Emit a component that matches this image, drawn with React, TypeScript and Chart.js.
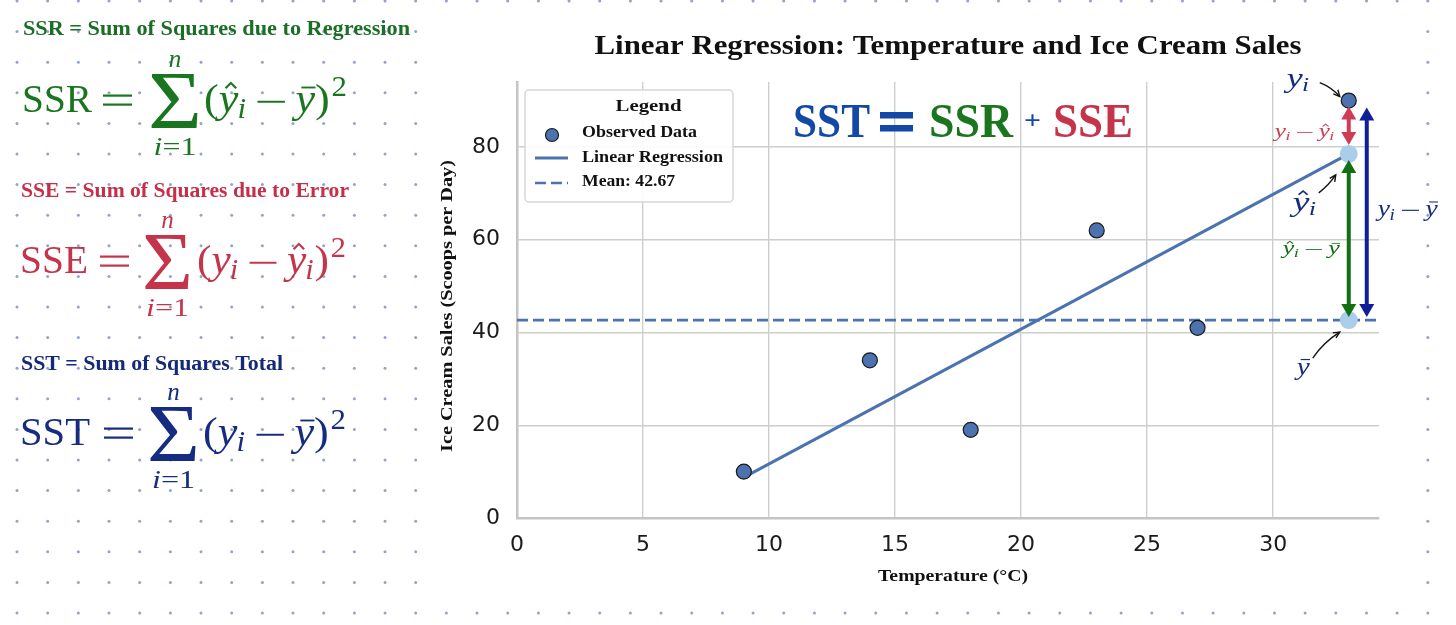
import React, { useEffect, useRef } from 'react';
import { Chart, registerables } from 'chart.js';

Chart.register(...registerables);

// ---------- data ----------
const temperatures = [9, 14, 18, 23, 27, 33];
const iceCreamSales = [10, 34, 19, 62, 41, 90];
const regressionTemps = [9, 33];
const regressionSales = [8.75, 78.5];
const meanSales = 42.67;
const meanSpan = [0, 34.2];
const highlightTemp = 33;
const highlightObserved = 90;
const highlightPredicted = 78.5;
const xTickValues = [0, 5, 10, 15, 20, 25, 30];
const yTickValues = [0, 20, 40, 60, 80];
const xRange = [0, 34.2];
const yRange = [0, 94];
const legendLabels = ['Observed Data', 'Linear Regression', 'Mean: 42.67'];
const chartTitle = 'Linear Regression: Temperature and Ice Cream Sales';
const xTitle = 'Temperature (°C)';
const yTitle = 'Ice Cream Sales (Scoops per Day)';

// ---------- styles ----------
const W = 1456;
const H = 625;
const SERIF = '"Liberation Serif", "DejaVu Serif", serif';
const PT_BLUE = '#4C72B0';
const HL_BLUE = 'rgb(170,205,234)';
const GREEN = 'rgb(26,118,30)';
const RED = 'rgb(198,52,76)';
const NAVY = 'rgb(22,44,128)';
const HEAD_GREEN = 'rgb(28,110,38)';
const HEAD_RED = 'rgb(196,48,72)';
const HEAD_NAVY = 'rgb(20,42,118)';
const BIG_BLUE = 'rgb(18,72,168)';
const ARROW_RED = 'rgb(205,62,86)';
const ARROW_GREEN = 'rgb(18,112,18)';
const ARROW_BLUE = 'rgb(16,30,152)';

type TxtOpt = { size: number; weight?: string; style?: string; color: string; w?: number; align?: 'left' | 'center' | 'right'; family?: string };

function txt(ctx: CanvasRenderingContext2D, s: string, x: number, y: number, o: TxtOpt) {
  ctx.save();
  ctx.font = `${o.style || 'normal'} ${o.weight || 'normal'} ${o.size}px ${o.family || SERIF}`;
  ctx.fillStyle = o.color;
  ctx.textBaseline = 'alphabetic';
  ctx.textAlign = 'left';
  const m = ctx.measureText(s).width;
  const sx = o.w ? o.w / m : 1;
  const w = m * sx;
  let left = x;
  if (o.align === 'center') left = x - w / 2;
  else if (o.align === 'right') left = x - w;
  ctx.translate(left, y);
  ctx.scale(sx, 1);
  ctx.fillText(s, 0, 0);
  ctx.restore();
  return w;
}

type Tok = { k: 'v' | 't' | 'op' | 'sup'; t: string; acc?: 'hat' | 'bar'; sub?: string };

function layoutMath(ctx: CanvasRenderingContext2D, toks: Tok[], size: number, draw: boolean) {
  let x = 0;
  const it = (s: number) => `italic ${s}px ${SERIF}`;
  const up = (s: number) => `normal ${s}px ${SERIF}`;
  for (const tk of toks) {
    if (tk.k === 'v') {
      ctx.font = it(size);
      const w = ctx.measureText(tk.t).width;
      if (draw) {
        ctx.fillText(tk.t, x, 0);
        if (tk.acc === 'hat') {
          const cx = x + w * 0.62;
          ctx.lineWidth = size * 0.05;
          ctx.beginPath();
          ctx.moveTo(cx - size * 0.12, -size * 0.58);
          ctx.lineTo(cx, -size * 0.71);
          ctx.lineTo(cx + size * 0.12, -size * 0.58);
          ctx.stroke();
        } else if (tk.acc === 'bar') {
          ctx.fillRect(x + w * 0.3, -size * 0.62, w * 0.72, size * 0.045);
        }
      }
      x += w;
      if (tk.sub) {
        ctx.font = it(size * 0.7);
        const sw = ctx.measureText(tk.sub).width;
        if (draw) ctx.fillText(tk.sub, x - size * 0.02, size * 0.15);
        x += sw;
      }
    } else if (tk.k === 'op') {
      x += size * 0.24;
      const mw = size * 0.62;
      if (draw) ctx.fillRect(x, -size * 0.25 - size * 0.024, mw, size * 0.048);
      x += mw + size * 0.24;
    } else if (tk.k === 't') {
      ctx.font = up(size);
      const w = ctx.measureText(tk.t).width;
      if (draw) ctx.fillText(tk.t, x, 0);
      x += w;
    } else {
      ctx.font = up(size * 0.7);
      const w = ctx.measureText(tk.t).width;
      if (draw) ctx.fillText(tk.t, x + size * 0.04, -size * 0.38);
      x += w + size * 0.04;
    }
  }
  return x;
}

function drawMath(ctx: CanvasRenderingContext2D, toks: Tok[], x: number, y: number, size: number, color: string, targetW?: number, align: 'left' | 'center' = 'left') {
  ctx.save();
  const natural = layoutMath(ctx, toks, size, false);
  const sx = targetW ? targetW / natural : 1;
  const w = natural * sx;
  const left = align === 'center' ? x - w / 2 : x;
  ctx.translate(left, y);
  ctx.scale(sx, 1);
  ctx.fillStyle = color;
  ctx.strokeStyle = color;
  ctx.textBaseline = 'alphabetic';
  ctx.textAlign = 'left';
  layoutMath(ctx, toks, size, true);
  ctx.restore();
}

const V = (t: string, acc?: 'hat' | 'bar', sub?: string): Tok => ({ k: 'v', t, acc, sub });
const T = (t: string): Tok => ({ k: 't', t });
const OP: Tok = { k: 'op', t: '−' };
const SUP = (t: string): Tok => ({ k: 'sup', t });

const bodySSR: Tok[] = [T('('), V('y', 'hat', 'i'), OP, V('y', 'bar'), T(')'), SUP('2')];
const bodySSE: Tok[] = [T('('), V('y', undefined, 'i'), OP, V('y', 'hat', 'i'), T(')'), SUP('2')];
const bodySST: Tok[] = [T('('), V('y', undefined, 'i'), OP, V('y', 'bar'), T(')'), SUP('2')];

type Formula = { label: string; color: string; base: number; labelX: number; labelW: number; eqX: number; sigmaX: number; sigmaW: number; bodyX: number; bodyW: number; body: Tok[] };

const formulas: Formula[] = [
  { label: 'SSR', color: GREEN, base: 112, labelX: 22, labelW: 70, eqX: 103, sigmaX: 148, sigmaW: 54, bodyX: 204, bodyW: 143, body: bodySSR },
  { label: 'SSE', color: RED, base: 273, labelX: 20, labelW: 68, eqX: 100, sigmaX: 142, sigmaW: 51, bodyX: 197, bodyW: 149, body: bodySSE },
  { label: 'SST', color: NAVY, base: 445, labelX: 20, labelW: 70, eqX: 104, sigmaX: 147, sigmaW: 53, bodyX: 203, bodyW: 143, body: bodySST },
];

function drawFormula(ctx: CanvasRenderingContext2D, f: Formula) {
  txt(ctx, f.label, f.labelX, f.base, { size: 41, color: f.color, w: f.labelW });
  ctx.fillStyle = f.color;
  const cy = f.base - 12;
  ctx.fillRect(f.eqX, cy - 5.5, 29, 2.2);
  ctx.fillRect(f.eqX, cy + 3.5, 29, 2.2);
  txt(ctx, 'Σ', f.sigmaX, f.base + 16, { size: 82, color: f.color, w: f.sigmaW });
  const scx = f.sigmaX + f.sigmaW / 2;
  drawMath(ctx, [V('n')], scx, f.base - 45, 25, f.color, undefined, 'center');
  drawMath(ctx, [V('i'), T('=1')], scx, f.base + 43, 25, f.color, 43, 'center');
  drawMath(ctx, f.body, f.bodyX, f.base, 41, f.color, f.bodyW);
}

function drawBackground(ctx: CanvasRenderingContext2D) {
  ctx.save();
  ctx.fillStyle = '#ffffff';
  ctx.fillRect(0, 0, W, H);
  ctx.fillStyle = 'rgb(146,164,202)';
  for (let r = 0; r <= 20; r++) {
    for (let c = 0; c <= 46; c++) {
      const x = 17 + c * 30.67;
      const y = 1 + r * 30.6;
      if (x > 425 && x < 1420 && y > 8 && y < 600) continue;
      ctx.beginPath();
      ctx.arc(x, y, 1.5, 0, Math.PI * 2);
      ctx.fill();
    }
  }
  txt(ctx, 'SSR = Sum of Squares due to Regression', 23, 35, { size: 20, weight: 'bold', color: HEAD_GREEN, w: 387 });
  txt(ctx, 'SSE = Sum of Squares due to Error', 21, 197, { size: 20, weight: 'bold', color: HEAD_RED, w: 328 });
  txt(ctx, 'SST = Sum of Squares Total', 21, 370, { size: 20, weight: 'bold', color: HEAD_NAVY, w: 262 });
  formulas.forEach((f) => drawFormula(ctx, f));
  ctx.restore();
}

function dblArrow(ctx: CanvasRenderingContext2D, x: number, y1: number, y2: number, color: string) {
  const hw = 7.5;
  const hl = 13;
  ctx.save();
  ctx.strokeStyle = color;
  ctx.fillStyle = color;
  ctx.lineWidth = 4;
  ctx.beginPath();
  ctx.moveTo(x, y1 + hl - 1);
  ctx.lineTo(x, y2 - hl + 1);
  ctx.stroke();
  ctx.beginPath();
  ctx.moveTo(x, y1);
  ctx.lineTo(x - hw, y1 + hl);
  ctx.lineTo(x + hw, y1 + hl);
  ctx.closePath();
  ctx.fill();
  ctx.beginPath();
  ctx.moveTo(x, y2);
  ctx.lineTo(x - hw, y2 - hl);
  ctx.lineTo(x + hw, y2 - hl);
  ctx.closePath();
  ctx.fill();
  ctx.restore();
}

function pointer(ctx: CanvasRenderingContext2D, x1: number, y1: number, x2: number, y2: number, bend: number) {
  ctx.save();
  ctx.strokeStyle = '#111';
  ctx.lineWidth = 1.4;
  const mx = (x1 + x2) / 2;
  const my = (y1 + y2) / 2;
  const dx = x2 - x1;
  const dy = y2 - y1;
  const len = Math.hypot(dx, dy);
  const cx = mx - (dy / len) * bend;
  const cy = my + (dx / len) * bend;
  ctx.beginPath();
  ctx.moveTo(x1, y1);
  ctx.quadraticCurveTo(cx, cy, x2, y2);
  ctx.stroke();
  const ang = Math.atan2(y2 - cy, x2 - cx);
  const a = 7;
  ctx.beginPath();
  ctx.moveTo(x2 - a * Math.cos(ang - 0.45), y2 - a * Math.sin(ang - 0.45));
  ctx.lineTo(x2, y2);
  ctx.lineTo(x2 - a * Math.cos(ang + 0.45), y2 - a * Math.sin(ang + 0.45));
  ctx.stroke();
  ctx.restore();
}

const decorPlugin = {
  id: 'decor',
  beforeDraw(chart: any) {
    const ctx: CanvasRenderingContext2D = chart.ctx;
    drawBackground(ctx);
    ctx.save();
    ctx.fillStyle = '#ffffff';
    ctx.fillRect(425, 8, 995, 592);
    ctx.restore();
  },
  afterDatasetsDraw(chart: any) {
    const ctx: CanvasRenderingContext2D = chart.ctx;
    const xs = chart.scales.x;
    const ys = chart.scales.y;
    const px = xs.getPixelForValue(highlightTemp);
    const pObs = ys.getPixelForValue(highlightObserved);
    const pHat = ys.getPixelForValue(highlightPredicted);
    const pMean = ys.getPixelForValue(meanSales);

    dblArrow(ctx, px, pObs + 6, pHat - 9, ARROW_RED);
    dblArrow(ctx, px, pHat + 6, pMean - 3, ARROW_GREEN);
    dblArrow(ctx, px + 18, pObs + 7, pMean - 3, ARROW_BLUE);

    drawMath(ctx, [V('y', undefined, 'i')], px - 62, pObs - 14, 27, NAVY, 23);
    pointer(ctx, px - 29, pObs - 18, px - 9, pObs - 4, -3);
    drawMath(ctx, [V('y', undefined, 'i'), OP, V('y', 'hat', 'i')], px - 74, pHat - 17, 18, ARROW_RED, 60);
    drawMath(ctx, [V('y', 'hat', 'i')], px - 56, pHat + 57, 28, NAVY, 24);
    pointer(ctx, px - 30, pHat + 39, px - 13, pHat + 21, 2);
    drawMath(ctx, [V('y', 'hat', 'i'), OP, V('y', 'bar')], px - 66, pMean - 66, 18, ARROW_GREEN, 57);
    const mid = (pObs + pMean) / 2;
    drawMath(ctx, [V('y', undefined, 'i'), OP, V('y', 'bar')], px + 29, mid + 6, 24, NAVY, 60);
    drawMath(ctx, [V('y', 'bar')], px - 52, pMean + 55, 26, NAVY, 13);
    pointer(ctx, px - 36, pMean + 38, px - 9, pMean + 12, -4);
  },
  afterDraw(chart: any) {
    const ctx: CanvasRenderingContext2D = chart.ctx;
    const area = chart.chartArea;
    // title
    txt(ctx, chartTitle, (area.left + area.right) / 2 + 0, 54, { size: 27, weight: 'bold', color: '#111', w: 707, align: 'center' });
    // axis titles
    txt(ctx, xTitle, 953, 581, { size: 17, weight: 'bold', color: '#111', w: 150, align: 'center' });
    ctx.save();
    ctx.translate(452, 306);
    ctx.rotate(-Math.PI / 2);
    txt(ctx, yTitle, 0, 0, { size: 17, weight: 'bold', color: '#111', w: 292, align: 'center' });
    ctx.restore();

    // legend
    ctx.save();
    ctx.fillStyle = 'rgba(255,255,255,0.9)';
    ctx.strokeStyle = 'rgb(214,214,214)';
    ctx.lineWidth = 1.5;
    ctx.beginPath();
    (ctx as any).roundRect(525, 90, 208, 112, 4);
    ctx.fill();
    ctx.stroke();
    txt(ctx, 'Legend', 648.5, 111, { size: 17, weight: 'bold', color: '#111', w: 66, align: 'center' });
    ctx.fillStyle = PT_BLUE;
    ctx.strokeStyle = '#1a1a1a';
    ctx.lineWidth = 1.2;
    ctx.beginPath();
    ctx.arc(552, 135, 6.5, 0, Math.PI * 2);
    ctx.fill();
    ctx.stroke();
    ctx.strokeStyle = PT_BLUE;
    ctx.lineWidth = 3;
    ctx.beginPath();
    ctx.moveTo(535, 158);
    ctx.lineTo(568, 158);
    ctx.stroke();
    ctx.lineWidth = 2.6;
    ctx.setLineDash([11, 5]);
    ctx.beginPath();
    ctx.moveTo(535, 183);
    ctx.lineTo(568, 183);
    ctx.stroke();
    ctx.setLineDash([]);
    ctx.restore();
    const lw = [115, 141, 93];
    legendLabels.forEach((l, i) => {
      txt(ctx, l, 582, 137 + i * 24.5, { size: 16, weight: 'bold', color: '#111', w: lw[i] });
    });

    // SST = SSR + SSE
    txt(ctx, 'SST', 793, 137, { size: 48, weight: 'bold', color: BIG_BLUE, w: 77 });
    ctx.save();
    ctx.fillStyle = BIG_BLUE;
    ctx.fillRect(880, 112, 33, 6.5);
    ctx.fillRect(880, 125, 33, 6.5);
    ctx.restore();
    txt(ctx, 'SSR', 929, 137, { size: 48, weight: 'bold', color: GREEN, w: 84 });
    txt(ctx, '+', 1024, 129, { size: 26, weight: 'bold', color: BIG_BLUE, w: 17 });
    txt(ctx, 'SSE', 1053, 137, { size: 48, weight: 'bold', color: RED, w: 80 });
  },
};

export default function App() {
  const ref = useRef<HTMLCanvasElement | null>(null);
  useEffect(() => {
    if (!ref.current) return;
    const observed = temperatures.map((x, i) => ({ x, y: iceCreamSales[i] }));
    const regression = regressionTemps.map((x, i) => ({ x, y: regressionSales[i] }));
    const mean = meanSpan.map((x) => ({ x, y: meanSales }));
    const highlight = [
      { x: highlightTemp, y: highlightPredicted },
      { x: highlightTemp, y: meanSales },
    ];
    const tickFont = { family: '"DejaVu Sans", sans-serif', size: 22 };
    const chart = new Chart(ref.current, {
      type: 'scatter',
      data: {
        datasets: [
          { label: legendLabels[0], data: observed, pointRadius: 7.5, pointBackgroundColor: PT_BLUE, pointBorderColor: '#1a1a1a', pointBorderWidth: 1.2, showLine: false },
          { label: 'highlight', data: highlight, pointRadius: 9, pointBackgroundColor: HL_BLUE, pointBorderWidth: 0, showLine: false },
          { label: legendLabels[1], data: regression, showLine: true, borderColor: PT_BLUE, borderWidth: 3, pointRadius: 0 },
          { label: legendLabels[2], data: mean, showLine: true, borderColor: PT_BLUE, borderWidth: 2.6, borderDash: [11, 5], pointRadius: 0 },
        ],
      },
      options: {
        animation: false,
        responsive: false,
        devicePixelRatio: 1,
        events: [],
        layout: { padding: { left: 437, right: 77, top: 82, bottom: 47 } },
        plugins: { legend: { display: false }, tooltip: { enabled: false }, title: { display: false } },
        scales: {
          x: {
            type: 'linear',
            min: xRange[0],
            max: xRange[1],
            afterBuildTicks: (s: any) => { s.ticks = xTickValues.map((v) => ({ value: v })); },
            afterFit: (s: any) => { s.height = 60; },
            ticks: { font: tickFont, color: '#1a1a1a', padding: 14, maxRotation: 0 },
            grid: { color: 'rgb(206,206,206)', lineWidth: 1.4, drawTicks: false },
            border: { display: true, color: 'rgb(196,196,196)', width: 2.5 },
          },
          y: {
            type: 'linear',
            min: yRange[0],
            max: yRange[1],
            afterBuildTicks: (s: any) => { s.ticks = yTickValues.map((v) => ({ value: v })); },
            afterFit: (s: any) => { s.width = 80; },
            ticks: { font: tickFont, color: '#1a1a1a', padding: 17 },
            grid: { color: 'rgb(206,206,206)', lineWidth: 1.4, drawTicks: false },
            border: { display: true, color: 'rgb(196,196,196)', width: 2.5 },
          },
        },
      },
      plugins: [decorPlugin],
    } as any);
    return () => chart.destroy();
  }, []);
  return (
    <div style={{ position: 'absolute', left: 0, top: 0, width: W, height: H, background: '#fff' }}>
      <canvas ref={ref} width={W} height={H} style={{ display: 'block', width: W, height: H }} />
    </div>
  );
}
